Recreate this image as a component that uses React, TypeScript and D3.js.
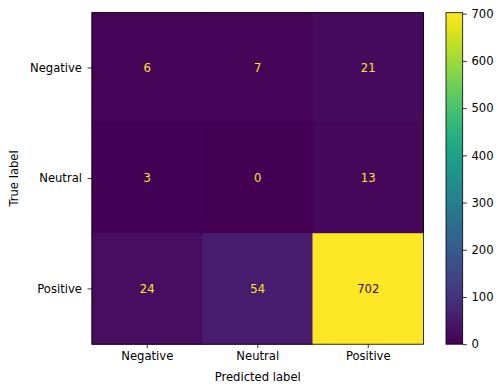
import React, { useRef, useEffect } from 'react';
import * as d3 from 'd3';

const predictedLabels = ['Negative', 'Neutral', 'Positive'];
const trueLabels = ['Negative', 'Neutral', 'Positive'];
// rows = true label, columns = predicted label
const counts = [
  [6, 7, 21],
  [3, 0, 13],
  [24, 54, 702],
];
const colorbarTicks = [0, 100, 200, 300, 400, 500, 600, 700];

const W = 504;
const H = 392;
const FONT = 'DejaVu Sans, sans-serif';
const FS = 11.6;

export default function App() {
  const svgRef = useRef<SVGSVGElement | null>(null);

  useEffect(() => {
    if (!svgRef.current) return;
    const svg = d3.select(svgRef.current);
    svg.selectAll('*').remove();

    const plot = { left: 92, top: 12.7, size: 331.5 };
    const vmax = d3.max(counts.flat()) as number;
    const vmin = d3.min(counts.flat()) as number;
    const color = (v: number) => d3.interpolateViridis((v - vmin) / (vmax - vmin));

    const x = d3.scaleBand().domain(predictedLabels).range([plot.left, plot.left + plot.size]);
    const y = d3.scaleBand().domain(trueLabels).range([plot.top, plot.top + plot.size]);

    const cells = counts.flatMap((row, i) =>
      row.map((v, j) => ({ t: trueLabels[i], p: predictedLabels[j], v }))
    );

    const g = svg.append('g');
    // slight overlap so no seams show between cells
    g.selectAll('rect.cell')
      .data(cells)
      .join('rect')
      .attr('class', 'cell')
      .attr('x', d => x(d.p)! - 0.5)
      .attr('y', d => y(d.t)! - 0.5)
      .attr('width', x.bandwidth() + 1)
      .attr('height', y.bandwidth() + 1)
      .attr('fill', d => color(d.v));

    g.selectAll('text.val')
      .data(cells)
      .join('text')
      .attr('class', 'val')
      .attr('x', d => x(d.p)! + x.bandwidth() / 2)
      .attr('y', d => y(d.t)! + y.bandwidth() / 2)
      .attr('text-anchor', 'middle')
      .attr('dominant-baseline', 'central')
      .attr('font-family', FONT)
      .attr('font-size', FS)
      .attr('fill', d => ((d.v - vmin) / (vmax - vmin) < 0.5 ? d3.interpolateViridis(1) : d3.interpolateViridis(0)))
      .text(d => String(d.v));

    // frame
    g.append('rect')
      .attr('x', plot.left)
      .attr('y', plot.top)
      .attr('width', plot.size)
      .attr('height', plot.size)
      .attr('fill', 'none')
      .attr('stroke', '#000')
      .attr('stroke-width', 0.8);

    const styleAxis = (sel: d3.Selection<SVGGElement, unknown, null, undefined>) => {
      sel.select('.domain').remove();
      sel.selectAll('.tick line').attr('stroke', '#000').attr('stroke-width', 0.8);
      sel.selectAll('.tick text')
        .attr('font-family', FONT)
        .attr('font-size', FS)
        .attr('fill', '#000');
    };

    svg.append('g')
      .attr('transform', `translate(0,${plot.top + plot.size})`)
      .call(d3.axisBottom(x).tickSize(4).tickPadding(3.8))
      .call(styleAxis);

    svg.append('g')
      .attr('transform', `translate(${plot.left},0)`)
      .call(d3.axisLeft(y).tickSize(4.5).tickPadding(5.5))
      .call(styleAxis);

    svg.append('text')
      .attr('x', plot.left + plot.size / 2)
      .attr('y', 380.5)
      .attr('text-anchor', 'middle')
      .attr('font-family', FONT)
      .attr('font-size', FS)
      .text('Predicted label');

    svg.append('text')
      .attr('transform', `translate(17.5,${plot.top + plot.size / 2}) rotate(-90)`)
      .attr('text-anchor', 'middle')
      .attr('font-family', FONT)
      .attr('font-size', FS)
      .text('True label');

    // colorbar
    const cb = { left: 446, width: 16.7, top: 12.7, bottom: 344.2 };
    const cy = d3.scaleLinear().domain([vmin, vmax]).range([cb.bottom, cb.top]);
    const defs = svg.append('defs');
    const grad = defs.append('linearGradient')
      .attr('id', 'viridis-grad')
      .attr('x1', 0).attr('y1', 1).attr('x2', 0).attr('y2', 0);
    d3.range(0, 1.0001, 0.05).forEach(t => {
      grad.append('stop').attr('offset', t).attr('stop-color', d3.interpolateViridis(t));
    });
    svg.append('rect')
      .attr('x', cb.left)
      .attr('y', cb.top)
      .attr('width', cb.width)
      .attr('height', cb.bottom - cb.top)
      .attr('fill', 'url(#viridis-grad)')
      .attr('stroke', '#000')
      .attr('stroke-width', 0.8);

    svg.append('g')
      .attr('transform', `translate(${cb.left + cb.width},0)`)
      .call(d3.axisRight(cy).tickValues(colorbarTicks).tickSize(4.2).tickPadding(4.5))
      .call(styleAxis);
  }, []);

  return (
    <div style={{ position: 'absolute', left: 0, top: 0, background: '#fff' }}>
      <svg ref={svgRef} width={W} height={H} style={{ display: 'block' }} />
    </div>
  );
}
